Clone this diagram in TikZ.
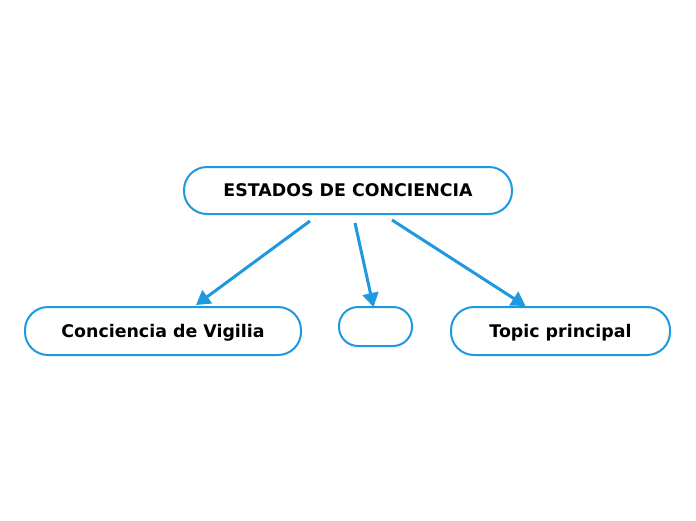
\documentclass[tikz,border=0pt]{standalone}
\usepackage{fontspec}
\setmainfont{DejaVu Sans}
\usetikzlibrary{arrows.meta}

\definecolor{mapblue}{RGB}{30,152,222}

\tikzset{
  topic/.style={draw=mapblue, line width=2pt, rounded corners=23pt, fill=white,
    minimum height=47pt, font=\fontsize{17.4}{20}\selectfont\bfseries, inner sep=0pt,
    text height=12.7pt, text depth=0pt},
  link/.style={draw=mapblue, line width=3pt, -{Triangle[length=14pt, width=16pt]}}
}

\begin{document}
\begin{tikzpicture}[x=1pt, y=-1pt]

  % Marco del dibujo
  \useasboundingbox (0,0) rectangle (696,520);

  % Topicos
  \node[topic, minimum width=328pt] (estados) at (348,190.5) {ESTADOS DE CONCIENCIA};
  \node[topic, minimum width=276pt, minimum height=48pt] (vigilia) at (163,331) {Conciencia de Vigilia};
  \node[topic, minimum width=73pt, minimum height=39pt, rounded corners=19pt] (vacio) at (375.5,326.5) {};
  \node[topic, minimum width=219pt, minimum height=48pt] (principal) at (560.5,331) {Topic principal};

  % Conectores
  \draw[link] ([xshift=-38pt, yshift=-6pt]estados.south) -- ([xshift=33pt, yshift=1pt]vigilia.north);
  \draw[link] ([xshift=7pt, yshift=-8pt]estados.south) -- ([xshift=-2pt, yshift=-1pt]vacio.north);
  \draw[link] ([xshift=44pt, yshift=-5pt]estados.south) -- ([xshift=-35pt, yshift=0pt]principal.north);

\end{tikzpicture}
\end{document}
